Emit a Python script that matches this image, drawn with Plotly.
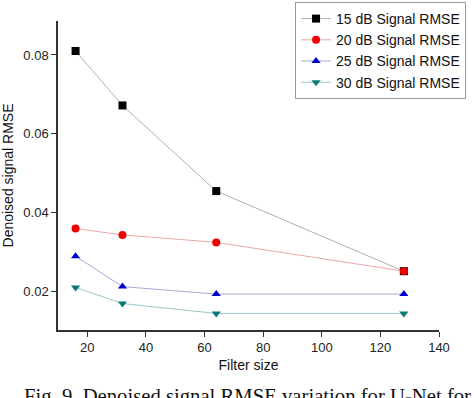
import plotly.graph_objects as go

filter_size = [16, 32, 64, 128]
rmse_15db = [0.0810, 0.0672, 0.0455, 0.0252]
rmse_20db = [0.0360, 0.0344, 0.0325, 0.0252]
rmse_25db = [0.0290, 0.0213, 0.0194, 0.0194]
rmse_30db = [0.0211, 0.0170, 0.0145, 0.0145]
series_names = ["15 dB Signal RMSE", "20 dB Signal RMSE", "25 dB Signal RMSE", "30 dB Signal RMSE"]
x_ticks = [20, 40, 60, 80, 100, 120, 140]
y_ticks = [0.02, 0.04, 0.06, 0.08]

styles = [
    dict(line="#b0b0b0", marker="#000000", symbol="square"),
    dict(line="#e8a8a8", marker="#ee0000", symbol="circle"),
    dict(line="#a8a8dc", marker="#0000cc", symbol="triangle-up"),
    dict(line="#98c8c8", marker="#0a7a78", symbol="triangle-down"),
]

fig = go.Figure()
for name, vals, st in zip(series_names, [rmse_15db, rmse_20db, rmse_25db, rmse_30db], styles):
    fig.add_trace(go.Scatter(
        x=filter_size, y=vals, name=name, mode="lines+markers",
        line=dict(color=st["line"], width=1),
        marker=dict(color=st["marker"], symbol=st["symbol"], size=8),
    ))

axis_common = dict(
    showline=True, linecolor="#333333", linewidth=1.5,
    ticks="outside", ticklen=5, tickwidth=1.2, tickcolor="#333333",
    showgrid=False, zeroline=False, mirror=False, automargin=False,
    tickfont=dict(family="Arial, Liberation Sans", size=13, color="#222222"),
    title_font=dict(family="Arial, Liberation Sans", size=14, color="#111111"),
)

fig.update_layout(
    width=474, height=398,
    margin=dict(l=58, r=35, t=21, b=68, autoexpand=False),
    paper_bgcolor="white", plot_bgcolor="white",
    showlegend=True,
    legend=dict(
        x=1.071, y=1.0615, xanchor="right", yanchor="top",
        bordercolor="#999999", borderwidth=1, bgcolor="white",
        font=dict(family="Arial, Liberation Sans", size=14, color="#111111"),
        tracegroupgap=0, itemwidth=30,
    ),
    xaxis=dict(range=[10, 140], tickvals=x_ticks, title=dict(text="Filter size", standoff=6), **axis_common),
    yaxis=dict(range=[0.0103, 0.0886], tickvals=y_ticks, tickformat=".2f",
               title=dict(text="Denoised signal RMSE"), **axis_common),
)

fig.add_annotation(
    text="Fig. 9. Denoised signal RMSE variation for U-Net for",
    xref="paper", yref="paper", x=-0.0945, y=-0.172, xanchor="left", yanchor="top",
    showarrow=False, font=dict(family="Liberation Serif, Times New Roman", size=20.7, color="#111111"),
)

fig.write_html("out.html", config={"displayModeBar": False},
               post_script="document.body.style.margin='0';document.body.style.overflow='hidden';")
